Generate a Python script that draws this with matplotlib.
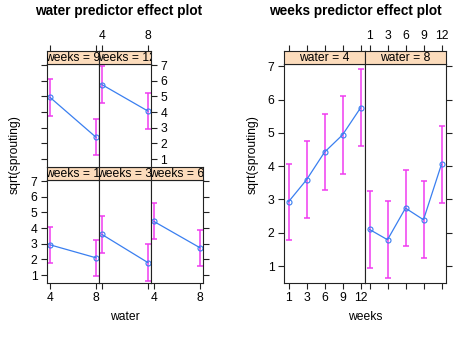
import numpy as np
import matplotlib
matplotlib.use("Agg")
import matplotlib.pyplot as plt

plt.rcParams['font.family'] = ['Liberation Sans', 'DejaVu Sans']

# Data
weeks = [1, 3, 6, 9, 12]
water = [4, 8]
fit_w4 = [2.93, 3.59, 4.42, 4.94, 5.75]
lo_w4 = [1.77, 2.43, 3.27, 3.78, 4.60]
hi_w4 = [4.08, 4.75, 5.58, 6.10, 6.92]
fit_w8 = [2.10, 1.79, 2.74, 2.39, 4.06]
lo_w8 = [0.94, 0.64, 1.59, 1.23, 2.90]
hi_w8 = [3.26, 2.95, 3.90, 3.55, 5.22]
yticks = [1, 2, 3, 4, 5, 6, 7]

W, H = 474, 338
fig = plt.figure(figsize=(W / 100, H / 100), dpi=100)

line_col = '#3a7ff0'
bar_col = '#f03cf0'
strip_col = '#fcdcbc'
axis_col = '#222222'
ylim = (0.49, 7.07)
fs = 8.7


def box(x0, y0, x1, y1):
    return [x0 / W, 1 - y1 / H, (x1 - x0) / W, (y1 - y0) / H]


def panel(x0, x1, y0, y1, label, xlim, xt, xtl, x, fit, lo, hi,
          left=(False, False), right=(False, False),
          bottom=(False, False), top=(False, False)):
    ax = fig.add_axes(box(x0, y0, x1, y1))
    ax.set_xlim(xlim)
    ax.set_ylim(ylim)
    ax.set_xticks(xt)
    ax.set_xticklabels(xtl)
    ax.set_yticks(yticks)
    ax.tick_params(direction='out', length=4.3, width=0.8, labelsize=fs, pad=2.5,
                   color=axis_col, labelcolor='black',
                   left=left[0], labelleft=left[1],
                   right=right[0], labelright=right[1],
                   bottom=bottom[0], labelbottom=bottom[1],
                   top=False, labeltop=False)
    for s in ax.spines.values():
        s.set_color(axis_col)
        s.set_linewidth(0.8)
    fit = np.array(fit)
    err = [fit - np.array(lo), np.array(hi) - fit]
    ax.errorbar(x, fit, yerr=err, fmt='none', ecolor=bar_col, elinewidth=1.1,
                capsize=2.3, capthick=1.1)
    ax.plot(x, fit, '-o', color=line_col, lw=0.9, ms=3.6, mfc='none', mew=0.8)

    # strip with the top axis above it
    sax = fig.add_axes(box(x0, y0 - 13, x1, y0))
    sax.set_facecolor(strip_col)
    sax.set_xlim(xlim)
    sax.set_xticks(xt)
    sax.set_xticklabels(xtl)
    sax.set_yticks([])
    sax.tick_params(direction='out', length=4.3, width=0.8, labelsize=fs, pad=2.5,
                    color=axis_col, bottom=False, labelbottom=False,
                    top=top[0], labeltop=top[1])
    for s in sax.spines.values():
        s.set_color(axis_col)
        s.set_linewidth(0.8)
    sax.text(0.5, 0.45, label, transform=sax.transAxes, ha='center', va='center',
             fontsize=fs, clip_on=True)
    return ax


# water predictor effect plot: panels by weeks
wx = (3.74, 8.26)
cols = [(47, 99), (99, 151), (151, 203)]
top_row = (64, 167)
bot_row = (180, 283)
layout = [
    (0, bot_row, dict(left=(True, True), bottom=(True, True))),
    (1, bot_row, dict(bottom=(True, False))),
    (2, bot_row, dict(bottom=(True, True), right=(True, False))),
    (0, top_row, dict(left=(True, False), top=(True, False))),
    (1, top_row, dict(right=(True, True), top=(True, True))),
]
for i, (c, row, flags) in enumerate(layout):
    panel(cols[c][0], cols[c][1], row[0], row[1], f'weeks = {weeks[i]}',
          wx, water, [str(v) for v in water], water,
          [fit_w4[i], fit_w8[i]], [lo_w4[i], lo_w8[i]], [hi_w4[i], hi_w8[i]],
          **flags)

# weeks predictor effect plot: panels by water
kx = (0.75, 5.25)
pos = np.arange(1, len(weeks) + 1)
panel(284, 365, 64, 283, 'water = 4', kx, pos, [str(v) for v in weeks], pos,
      fit_w4, lo_w4, hi_w4, left=(True, True), bottom=(True, True),
      top=(True, False))
panel(365, 446, 64, 283, 'water = 8', kx, pos, [str(v) for v in weeks], pos,
      fit_w8, lo_w8, hi_w8, right=(True, False), bottom=(True, False),
      top=(True, True))


# titles and axis labels
def ftext(x, y, s, **kw):
    fig.text(x / W, 1 - y / H, s, ha='center', va='center', **kw)


ftext(118.5, 11, 'water predictor effect plot', fontsize=9.8, fontweight='bold')
ftext(355, 11, 'weeks predictor effect plot', fontsize=9.8, fontweight='bold')
ftext(15, 155, 'sqrt(sprouting)', fontsize=fs, rotation=90)
ftext(253, 155, 'sqrt(sprouting)', fontsize=fs, rotation=90)
ftext(125, 317, 'water', fontsize=fs)
ftext(365, 317, 'weeks', fontsize=fs)

fig.savefig('out.png', dpi=100)
